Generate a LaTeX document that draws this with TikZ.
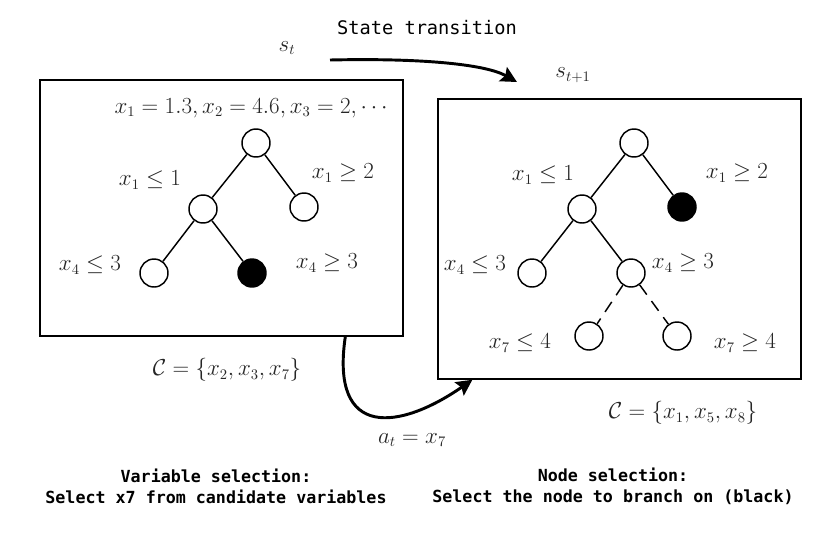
\documentclass[tikz,border=0pt]{standalone}
\usepackage{amsmath,amssymb}
\usepackage{fontspec}
\newfontfamily\monofont{DejaVu Sans Mono}
\usetikzlibrary{arrows.meta,positioning,calc}

\begin{document}
\begin{tikzpicture}[
    x=0.75pt, y=-0.75pt,
    bnode/.style={circle, draw, line width=1.1pt, minimum size=21pt, inner sep=0pt, fill=white},
    chosen/.style={bnode, fill=black},
    frame/.style={rectangle, draw, line width=1.1pt, minimum width=272pt, inner sep=0pt},
    branch/.style={line width=1.1pt},
    cond/.style={font=\fontsize{16}{18}\selectfont, text=black!85, inner sep=1pt},
    caption/.style={font=\monofont\bfseries\fontsize{12.5}{15.5}\selectfont, align=center},
    arrow/.style={-{Stealth[length=12pt,width=12pt,inset=2pt]}, line width=2.2pt},
]
    \useasboundingbox (0,0) rectangle (830,537);

    % === Left state s_t ===
    \node[frame, minimum height=192pt] (left) at (221.5,208) {};
    \node[cond] (st) at (287,48) {$s_t$};
    \node[cond] (vals) at (253,108) {$x_1=1.3, x_2=4.6, x_3=2,\cdots$};

    \node[bnode] (lr) at (256,143) {};
    \node[bnode] (la) at (203,209) {};
    \node[bnode] (lb) at (304,207) {};
    \node[bnode] (laa) at (154,273) {};
    \node[chosen] (lab) at (252,273) {};

    \draw[branch] (lr) -- (la);
    \draw[branch] (lr) -- (lb);
    \draw[branch] (la) -- (laa);
    \draw[branch] (la) -- (lab);

    \node[cond] at (150,180) {$x_1\le 1$};
    \node[cond] at (343,173) {$x_1\ge 2$};
    \node[cond] at (90,265) {$x_4\le 3$};
    \node[cond] at (327,263) {$x_4\ge 3$};
    \node[cond] (lcand) at (227,370) {$\mathcal{C}=\{x_2,x_3,x_7\}$};

    % === Right state s_{t+1} ===
    \node[frame, minimum height=210pt] (right) at (619.5,239) {};
    \node[cond] (st1) at (573,75) {$s_{t+1}$};

    \node[bnode] (rr) at (634,143) {};
    \node[bnode] (ra) at (582,209) {};
    \node[chosen] (rb) at (682,207) {};
    \node[bnode] (raa) at (532,273) {};
    \node[bnode] (rab) at (631,273) {};
    \node[bnode] (raba) at (589,336) {};
    \node[bnode] (rabb) at (677,336) {};

    \draw[branch] (rr) -- (ra);
    \draw[branch] (rr) -- (rb);
    \draw[branch] (ra) -- (raa);
    \draw[branch] (ra) -- (rab);
    \draw[branch, dash pattern=on 9pt off 6pt] (rab) -- (raba);
    \draw[branch, dash pattern=on 9pt off 6pt] (rab) -- (rabb);

    \node[cond] at (543,175) {$x_1\le 1$};
    \node[cond] at (737,173) {$x_1\ge 2$};
    \node[cond] at (475,265) {$x_4\le 3$};
    \node[cond] at (683,263) {$x_4\ge 3$};
    \node[cond] at (520,343) {$x_7\le 4$};
    \node[cond] at (745,343) {$x_7\ge 4$};
    \node[cond] (rcand) at (683,413) {$\mathcal{C}=\{x_1,x_5,x_8\}$};

    % === Transitions ===
    \node[font=\monofont\fontsize{14}{16}\selectfont] (trans) at (427,28) {State transition};
    \coordinate (trs) at (330,60);
    \coordinate (tre) at (517,82);
    \draw[arrow] (trs) .. controls (420,58) and (485,64) .. (tre);

    \coordinate (acts) at ($(left.south west)!0.84!(left.south east)$);
    \coordinate (acte) at ($(right.south west)!0.096!(right.south east)$);
    \draw[arrow] (acts) .. controls (330,440) and (400,430) .. (acte);
    \node[cond] (act) at (412,440) {$a_t=x_7$};

    % === Captions ===
    \node[caption] (capl) at (216,486) {Variable selection:\\Select x7 from candidate variables};
    \node[caption] (capr) at (613,486) {Node selection:\\Select the node to branch on (black)};
\end{tikzpicture}
\end{document}
